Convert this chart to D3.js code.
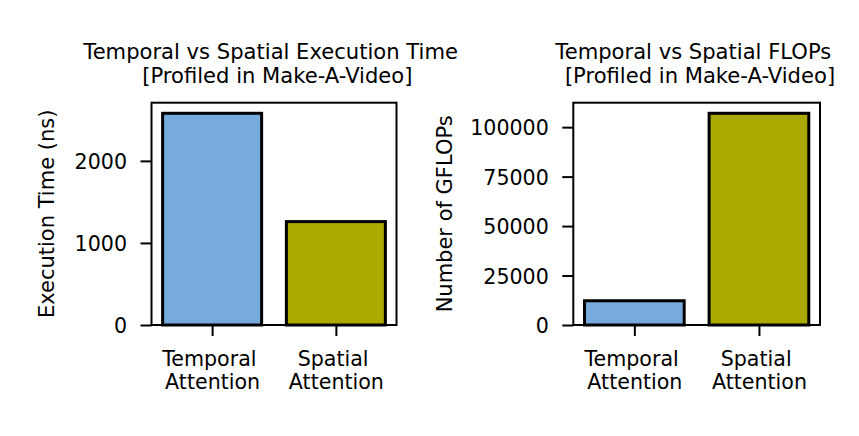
<!DOCTYPE html>
<html>
<head>
<meta charset="utf-8">
<script src="https://cdn.jsdelivr.net/npm/d3@7"></script>
<style>
  html, body { margin: 0; padding: 0; background: #fff; }
  svg { display: block; font-family: "DejaVu Sans", sans-serif; }
  text { white-space: pre; }
</style>
</head>
<body>
<svg id="chart" width="859" height="436" xmlns="http://www.w3.org/2000/svg"></svg>
<script>
// ---- data ----
const categories = ["Temporal \nAttention", "Spatial \nAttention"];
const execTimeValues = [2580, 1260];          // ns
const flopsValues = [12250, 107000];          // GFLOPs
const execTimeTicks = [0, 1000, 2000];
const flopsTicks = [0, 25000, 50000, 75000, 100000];
const barColors = ["#77AADD", "#AAAA00"];
const titles = [
  "Temporal vs Spatial Execution Time \n [Profiled in Make-A-Video]",
  "Temporal vs Spatial FLOPs \n [Profiled in Make-A-Video]"
];
const yLabels = ["Execution Time (ns)", "Number of GFLOPs"];

const svg = d3.select("#chart");
const FS_TICK = 20.6;
const FS_LABEL = 21;
const FS_TITLE = 21.1;

const panels = [
  { values: execTimeValues, ticks: execTimeTicks, title: titles[0], ylabel: yLabels[0],
    x0: 151.5, x1: 396.5, y0: 102.7, y1: 325, ylabelX: 53.5 },
  { values: flopsValues, ticks: flopsTicks, title: titles[1], ylabel: yLabels[1],
    x0: 573.3, x1: 820, y0: 102.7, y1: 325, ylabelX: 452 }
];

panels.forEach(p => {
  const g = svg.append("g");
  const n = categories.length;
  const x = d3.scaleLinear().domain([-0.49, (n - 1) + 0.49]).range([p.x0, p.x1]);
  const ymax = d3.max(p.values) * 1.05;
  const y = d3.scaleLinear().domain([0, ymax]).range([p.y1, p.y0]);

  // bars
  g.selectAll("rect.bar").data(p.values).enter().append("rect")
    .attr("class", "bar")
    .attr("x", (d, i) => x(i - 0.4))
    .attr("width", (d, i) => x(i + 0.4) - x(i - 0.4))
    .attr("y", d => y(d))
    .attr("height", d => y(0) - y(d))
    .attr("fill", (d, i) => barColors[i])
    .attr("stroke", "#000")
    .attr("stroke-width", 3);

  // spines
  g.append("rect")
    .attr("x", p.x0).attr("y", p.y0)
    .attr("width", p.x1 - p.x0).attr("height", p.y1 - p.y0)
    .attr("fill", "none").attr("stroke", "#000").attr("stroke-width", 2);

  // y axis
  const yAxis = d3.axisLeft(y).tickValues(p.ticks).tickSize(11).tickPadding(13.5)
    .tickFormat(d3.format("d"));
  const ya = g.append("g").attr("transform", `translate(${p.x0},0)`).call(yAxis);
  ya.select(".domain").remove();
  ya.selectAll(".tick line").attr("stroke", "#000").attr("stroke-width", 2);
  ya.selectAll(".tick text")
    .attr("font-family", "DejaVu Sans").attr("font-size", FS_TICK).attr("fill", "#000")
    .attr("dy", "0.38em");

  // x axis
  const xAxis = d3.axisBottom(x).tickValues(d3.range(n)).tickSize(11).tickFormat("");
  const xa = g.append("g").attr("transform", `translate(0,${p.y1})`).call(xAxis);
  xa.select(".domain").remove();
  xa.selectAll(".tick line").attr("stroke", "#000").attr("stroke-width", 2);
  xa.selectAll(".tick text").remove();
  xa.selectAll(".tick").each(function(d) {
    const t = d3.select(this).append("text")
      .attr("text-anchor", "middle")
      .attr("font-family", "DejaVu Sans").attr("font-size", FS_TICK).attr("fill", "#000")
      .attr("xml:space", "preserve");
    categories[d].split("\n").forEach((line, k) => {
      t.append("tspan").attr("x", 0).attr("y", 40.5 + k * 23.8).text(line);
    });
  });

  // title
  const tt = g.append("text")
    .attr("text-anchor", "middle")
    .attr("font-family", "DejaVu Sans").attr("font-size", FS_TITLE).attr("fill", "#000")
    .attr("xml:space", "preserve");
  p.title.split("\n").forEach((line, k) => {
    tt.append("tspan").attr("x", (p.x0 + p.x1) / 2).attr("y", 58.5 + k * 24.4).text(line);
  });

  // y label
  g.append("text")
    .attr("transform", `translate(${p.ylabelX},${(p.y0 + p.y1) / 2}) rotate(-90)`)
    .attr("text-anchor", "middle")
    .attr("font-family", "DejaVu Sans").attr("font-size", FS_LABEL).attr("fill", "#000")
    .text(p.ylabel);
});
</script>
</body>
</html>
